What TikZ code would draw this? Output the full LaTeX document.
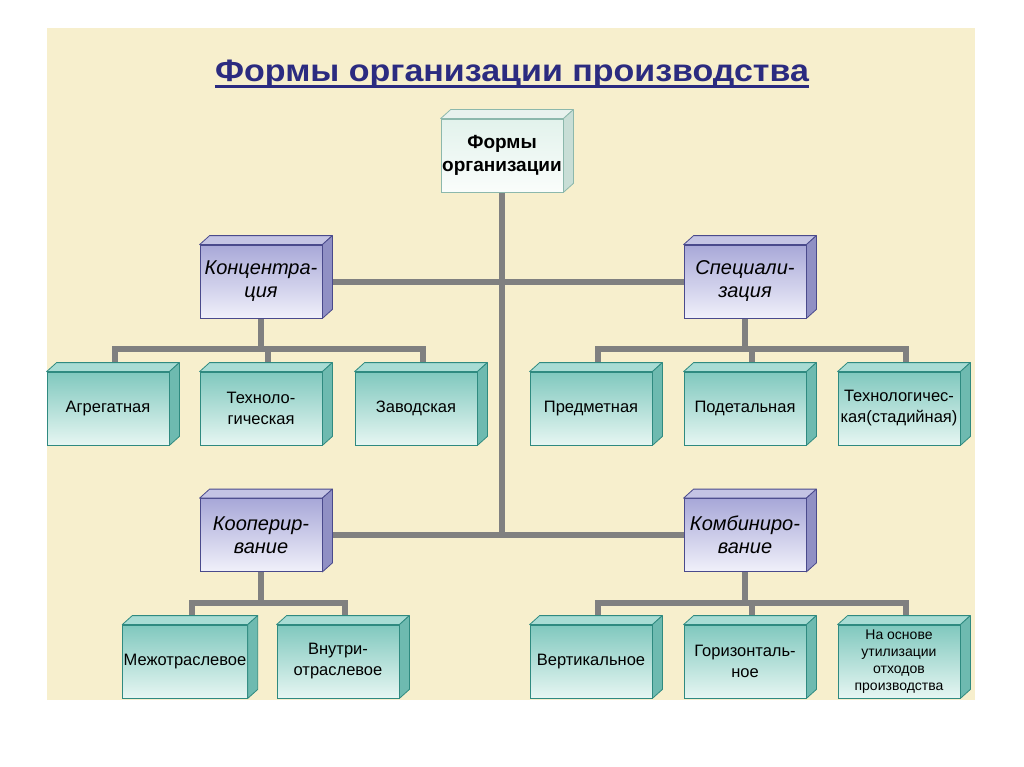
\documentclass[tikz,border=0pt]{standalone}
\usepackage{fontspec}
\setmainfont{Liberation Sans}
\usetikzlibrary{calc}
\definecolor{beige}{HTML}{F7EFCD}
\definecolor{titleblue}{HTML}{2B2B80}
\definecolor{conncol}{HTML}{808080}
\definecolor{lavtop}{HTML}{A8A8D8}
\definecolor{lavbot}{HTML}{F0F0FA}
\definecolor{lavedge}{HTML}{4A4A8C}
\definecolor{lavface}{HTML}{C4C4E4}
\definecolor{lavside}{HTML}{9090C4}
\definecolor{teltop}{HTML}{80C8BE}
\definecolor{telbot}{HTML}{E6F6F2}
\definecolor{teledge}{HTML}{2F8A80}
\definecolor{telface}{HTML}{A8DCD4}
\definecolor{telside}{HTML}{6EBAB0}
\definecolor{mintop}{HTML}{E2F2EC}
\definecolor{minbot}{HTML}{FAFDFB}
\definecolor{minedge}{HTML}{8CB8AC}
\definecolor{minface}{HTML}{E8F2EE}
\definecolor{minside}{HTML}{C8DED6}
\pgfdeclarelayer{bg}
\pgfdeclarelayer{conn}
\pgfsetlayers{bg,conn,main}
\tikzset{
  x=1pt, y=-1pt,
  front/.style={minimum width=122pt, minimum height=73pt, inner sep=1pt, align=center, draw, line width=0.8pt},
  root/.style={front, inner sep=0pt, top color=mintop, bottom color=minbot, draw=minedge, font=\fontsize{19}{23}\selectfont\bfseries},
  lev1/.style={front, top color=lavtop, bottom color=lavbot, draw=lavedge, font=\fontsize{20}{23}\selectfont\itshape},
  lev2/.style={front, top color=teltop, bottom color=telbot, draw=teledge, font=\fontsize{16.5}{21}\selectfont},
  conn/.style={draw=conncol, line width=6pt},
}
% #1 node name, #2 face colour, #3 side colour, #4 edge colour
\newcommand\threed[4]{%
  \draw[fill=#2, draw=#4, line width=0.8pt, line join=round] (#1.north west) -- ($(#1.north west)+(10,-9)$) -- ($(#1.north east)+(10,-9)$) -- (#1.north east) -- cycle;
  \draw[fill=#3, draw=#4, line width=0.8pt, line join=round] (#1.north east) -- ($(#1.north east)+(10,-9)$) -- ($(#1.south east)+(10,-9)$) -- (#1.south east) -- cycle;
}
\begin{document}
\begin{tikzpicture}
\useasboundingbox (0,0) rectangle (1024,767);
\begin{pgfonlayer}{bg}
  \fill[white] (0,0) rectangle (1024,767);
  \fill[beige] (47,28) rectangle (975,700);
\end{pgfonlayer}

\node[text=titleblue, font=\fontsize{31}{36}\selectfont\bfseries, anchor=base, inner sep=0pt, xscale=1.096, transform shape] (title) at (512,82) {Формы организации производства};
\draw[titleblue, line width=2.5pt] (title.west |- 0,86.5) -- (title.east |- 0,86.5);

\node[root] (r) at (502,155.5) {Формы\\организации};
\threed{r}{minface}{minside}{minedge}

\node[lev1] (c1) at (261,281.5) {Концентра-\\ция};
\node[lev1] (c2) at (745,281.5) {Специали-\\зация};
\node[lev1] (c3) at (261,535) {Кооперир-\\вание};
\node[lev1] (c4) at (745,535) {Комбиниро-\\вание};
\foreach \n in {c1,c2,c3,c4}{\threed{\n}{lavface}{lavside}{lavedge}}

\node[lev2] (a1) at (108,408.5) {Агрегатная};
\node[lev2] (a2) at (261,408.5) {Техноло-\\гическая};
\node[lev2] (a3) at (416,408.5) {Заводская};
\node[lev2] (b1) at (591,408.5) {Предметная};
\node[lev2] (b2) at (745,408.5) {Подетальная};
\node[lev2] (b3) at (899,408.5) {Технологичес-\\кая(стадийная)};
\node[lev2] (d1) at (185,661.5) {Межотраслевое};
\node[lev2] (d2) at (338,661.5) {Внутри-\\отраслевое};
\node[lev2] (e1) at (591,661.5) {Вертикальное};
\node[lev2] (e2) at (745,661.5) {Горизонталь-\\ное};
\node[lev2, font=\fontsize{14}{17}\selectfont] (e3) at (899,661.5) {На основе\\утилизации\\отходов\\производства};
\foreach \n in {a1,a2,a3,b1,b2,b3,d1,d2,e1,e2,e3}{\threed{\n}{telface}{telside}{teledge}}

\begin{pgfonlayer}{conn}
  % trunk
  \draw[conn] (r.south) -- (r.south |- c4.west) coordinate (jb);
  \draw[conn] (c1.east) -- (c2.west);
  \draw[conn] (c3.east) -- (c4.west);
  % buses
  \draw[conn] (c1.south) -- ++(0,31) coordinate (bus1);
  \draw[conn] ([xshift=7pt]a1.north) |- (bus1) -| ([xshift=7pt]a3.north);
  \draw[conn] ([xshift=7pt]a2.north) -- ([xshift=7pt]a2.north |- bus1);
  \draw[conn] (c2.south) -- ++(0,31) coordinate (bus2);
  \draw[conn] ([xshift=7pt]b1.north) |- (bus2) -| ([xshift=7pt]b3.north);
  \draw[conn] ([xshift=7pt]b2.north) -- ([xshift=7pt]b2.north |- bus2);
  \draw[conn] (c3.south) -- ++(0,31) coordinate (bus3);
  \draw[conn] ([xshift=7pt]d1.north) |- (bus3) -| ([xshift=7pt]d2.north);
  \draw[conn] (c4.south) -- ++(0,31) coordinate (bus4);
  \draw[conn] ([xshift=7pt]e1.north) |- (bus4) -| ([xshift=7pt]e3.north);
  \draw[conn] ([xshift=7pt]e2.north) -- ([xshift=7pt]e2.north |- bus4);
\end{pgfonlayer}
\end{tikzpicture}
\end{document}
